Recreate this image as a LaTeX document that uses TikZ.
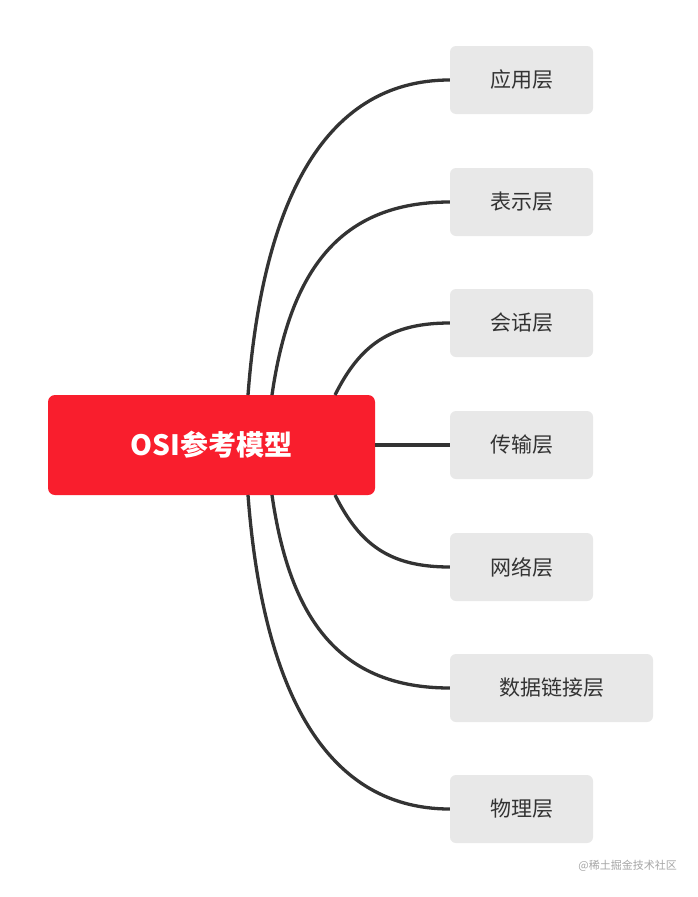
\documentclass[tikz,border=0pt]{standalone}
\usepackage{fontspec}
\setmainfont{Noto Sans CJK SC}
\newfontfamily\cjkbold[BoldFont={* Bold}]{Noto Sans CJK SC}
\begin{document}
\begin{tikzpicture}[x=1pt,y=-1pt,
  leaf/.style={fill=leafgray,rounded corners=6pt,minimum height=68pt,minimum width=143pt,font=\fontsize{21}{24}\selectfont,text=darktext,inner sep=0pt},
  conn/.style={draw=darktext,line width=3.3pt}]
\definecolor{leafgray}{HTML}{E8E8E8}
\definecolor{darktext}{HTML}{333333}
\definecolor{redroot}{HTML}{F91E2D}
\useasboundingbox[fill=white] (0,0) rectangle (698,897);
\node[fill=redroot,rounded corners=7pt,minimum width=327pt,minimum height=100pt,text=white,font=\fontsize{28}{32}\selectfont\bfseries,inner sep=0pt] (root) at (211.5,445) {OSI参考模型};
\node[leaf] (a) at (521.5,80) {应用层};
\node[leaf] (b) at (521.5,202) {表示层};
\node[leaf] (c) at (521.5,323) {会话层};
\node[leaf] (d) at (521.5,445) {传输层};
\node[leaf] (e) at (521.5,567) {网络层};
\node[leaf,minimum width=203pt] (f) at (551.5,688) {数据链接层};
\node[leaf] (g) at (521.5,809) {物理层};
\coordinate (s1) at (248,395);
\coordinate (s2) at (272,395);
\coordinate (s3) at (335,395);
\coordinate (t1) at (248,495);
\coordinate (t2) at (272,495);
\coordinate (t3) at (335,495);
\draw[conn] (s1) .. controls (262,210) and (320,80) .. (a.west);
\draw[conn] (s2) .. controls (290,270) and (340,202) .. (b.west);
\draw[conn] (s3) .. controls (360,345) and (390,323) .. (c.west);
\draw[conn] (root.east) -- (d.west);
\draw[conn] (t3) .. controls (360,545) and (390,567) .. (e.west);
\draw[conn] (t2) .. controls (290,620) and (340,688) .. (f.west);
\draw[conn] (t1) .. controls (262,680) and (320,809) .. (g.west);
\node[text=gray!70,font=\fontsize{11}{13}\selectfont,anchor=east,inner sep=0pt] (wm) at (677,866) {@稀土掘金技术社区};
\end{tikzpicture}
\end{document}
